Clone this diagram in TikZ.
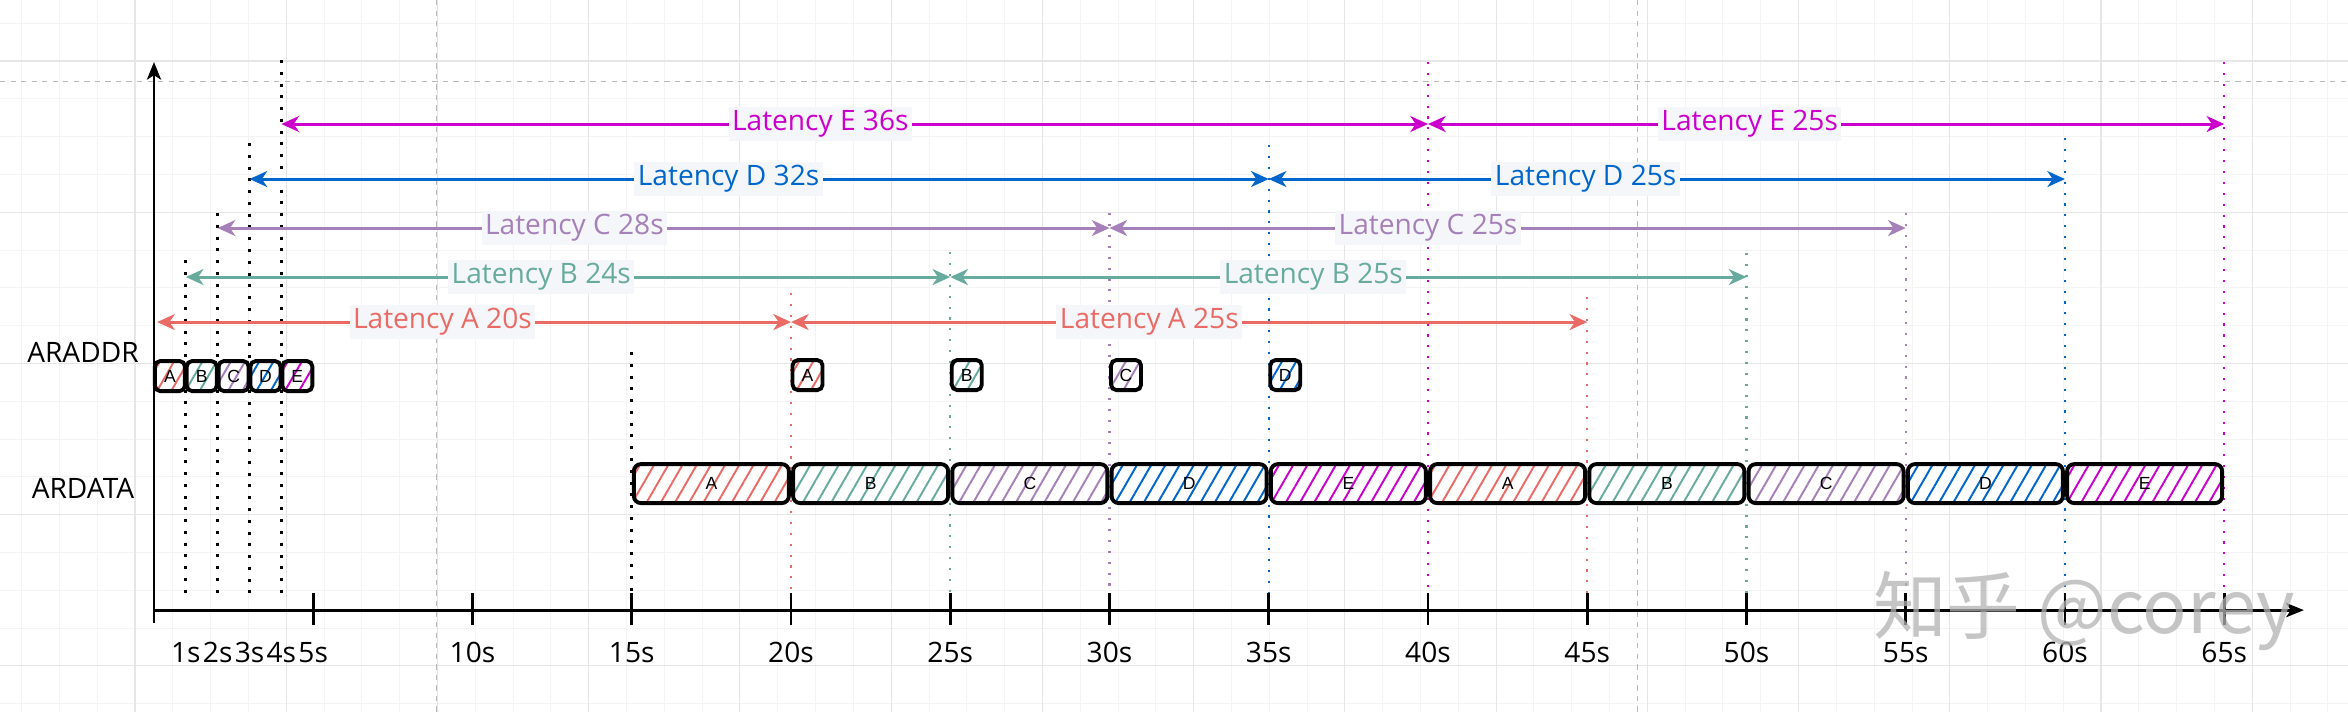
\documentclass[tikz,border=0pt]{standalone}
\usepackage{fontspec}
\setmainfont{Open Sans}
\newfontfamily\boxfont{Liberation Sans}
\newfontfamily\cjkfont{Noto Sans CJK SC}
\usetikzlibrary{arrows.meta,patterns.meta,calc}
\definecolor{ClrA}{HTML}{EA6B66}
\definecolor{ClrB}{HTML}{67AB9F}
\definecolor{ClrC}{HTML}{A680B8}
\definecolor{ClrD}{HTML}{0066CC}
\definecolor{ClrE}{HTML}{CC00CC}
\definecolor{GridClr}{HTML}{F4F4F4}
\definecolor{MajorClr}{HTML}{E6E6E6}
\definecolor{LabelBg}{HTML}{F4F6F9}

\begin{document}
\begin{tikzpicture}[x=0.637cm,y=-0.02cm,
  lat/.style={<->,line width=1.7pt,>={Stealth[length=10pt,width=9pt,inset=3pt]}},
  latlbl/.style={fill=LabelBg,inner sep=2pt,font=\fontsize{16}{19}\selectfont},
  axisline/.style={line width=1.7pt,-{Stealth[length=10pt,width=8pt,inset=2.5pt]}},
  blackdots/.style={black,line width=1.7pt,dash pattern=on 1.7pt off 5pt},
  clrdots/.style={line width=1.2pt,dash pattern=on 1.2pt off 5pt},
  hatch/.style={preaction={fill=white},pattern={Lines[angle=60,distance=7pt,line width=1.1pt]},pattern color=#1},
  slot/.style={draw=black,line width=2.2pt,rounded corners=3pt,minimum width=0.6cm,minimum height=0.6cm,inner sep=0pt,font=\boxfont\fontsize{10}{11}\selectfont},
  burst/.style={draw=black,line width=2.2pt,rounded corners=4pt,minimum width=3.1cm,minimum height=0.78cm,inner sep=0pt,font=\boxfont\fontsize{10}{11}\selectfont},
  ticklbl/.style={font=\fontsize{16}{19}\selectfont},
  siglbl/.style={font=\fontsize{16}{19}\selectfont}]

\useasboundingbox (-4.835,0) rectangle (68.886,712);
\fill[white] (-4.835,0) rectangle (68.886,712);

\begin{scope}[x=0.02cm,shift={(-154,0)}]
\foreach \k in {0,...,61} \draw[GridClr,line width=.5pt] ({21.6+37.8*\k},0) -- ({21.6+37.8*\k},712);
\foreach \k in {0,...,18} \draw[GridClr,line width=.5pt] (0,{23.2+37.8*\k}) -- (2348,{23.2+37.8*\k});
\foreach \k in {0,...,14} \draw[MajorClr,line width=.6pt] ({135+151.2*\k},0) -- ({135+151.2*\k},712);
\foreach \k in {0,...,4} \draw[MajorClr,line width=.6pt] (0,{61+151.2*\k}) -- (2348,{61+151.2*\k});
\draw[gray!55,dashed,line width=.4pt] (436,0) -- (436,712) (1637,0) -- (1637,712) (0,81) -- (2348,81);
\end{scope}

\foreach \tm/\ytop in {1/260,2/213,3/143,4/60,15/352}
  \draw[blackdots] (\tm,\ytop) -- (\tm,600);
\foreach \tm/\ytop/\c in {20/293/ClrA,25/252/ClrB,30/213/ClrC,35/145/ClrD,40/62/ClrE,45/297/ClrA,50/253/ClrB,55/213/ClrC,60/138/ClrD,65/62/ClrE}
  \draw[clrdots,\c] (\tm,\ytop) -- (\tm,606);

\coordinate (Ybot) at (0,623);
\coordinate (Ytop) at (0,62);
\coordinate (O) at (0,610);
\coordinate (Xend) at (67.5,610);
\draw[axisline] (Ybot) -- (Ytop);
\draw[axisline] (O) -- (Xend);
\foreach \tm in {5,10,...,65}
  \draw[line width=1.6pt] (\tm,593) -- (\tm,625);
\foreach \tm in {1,...,5}
  \node[ticklbl] (t\tm) at (\tm,652) {\tm s};
\foreach \tm in {10,15,...,65}
  \node[ticklbl] (t\tm) at (\tm,652) {\tm s};

\node[siglbl] (araddr) at (-2.23,352) {ARADDR};
\node[siglbl] (ardata) at (-2.23,488) {ARDATA};

\coordinate (a0) at (0.1,322); \coordinate (a1) at (20,322); \coordinate (a2) at (45,322);
\coordinate (b0) at (1,277);   \coordinate (b1) at (25,277); \coordinate (b2) at (50,277);
\coordinate (c0) at (2,228);   \coordinate (c1) at (30,228); \coordinate (c2) at (55,228);
\coordinate (d0) at (3,179);   \coordinate (d1) at (35,179); \coordinate (d2) at (60,179);
\coordinate (e0) at (4,124);   \coordinate (e1) at (40,124); \coordinate (e2) at (65,124);

\draw[lat,ClrA] (a0) -- node[latlbl,pos=.45] (la1) {Latency A 20s} (a1);
\draw[lat,ClrA] (a1) -- node[latlbl,pos=.45] (la2) {Latency A 25s} (a2);
\draw[lat,ClrB] (b0) -- node[latlbl,pos=.465] (lb1) {Latency B 24s} (b1);
\draw[lat,ClrB] (b1) -- node[latlbl,pos=.456] (lb2) {Latency B 25s} (b2);
\draw[lat,ClrC] (c0) -- node[latlbl,pos=.40] (lc1) {Latency C 28s} (c1);
\draw[lat,ClrC] (c1) -- node[latlbl,pos=.40] (lc2) {Latency C 25s} (c2);
\draw[lat,ClrD] (d0) -- node[latlbl,pos=.47] (ld1) {Latency D 32s} (d1);
\draw[lat,ClrD] (d1) -- node[latlbl,pos=.398] (ld2) {Latency D 25s} (d2);
\draw[lat,ClrE] (e0) -- node[latlbl,pos=.47] (le1) {Latency E 36s} (e1);
\draw[lat,ClrE] (e1) -- node[latlbl,pos=.404] (le2) {Latency E 25s} (e2);

\foreach \n/\c [count=\i from 0] in {A/ClrA,B/ClrB,C/ClrC,D/ClrD,E/ClrE}
  \node[slot,hatch=\c] (r\n) at (\i+0.5,376) {\n};
\foreach \n/\c/\tm in {A/ClrA/20,B/ClrB/25,C/ClrC/30,D/ClrD/35}
  \node[slot,hatch=\c] (rr\n) at (\tm+0.52,375) {\n};

\foreach \n/\c [count=\i from 0] in {A/ClrA,B/ClrB,C/ClrC,D/ClrD,E/ClrE,A/ClrA,B/ClrB,C/ClrC,D/ClrD,E/ClrE}
  \node[burst,hatch=\c] (d\i) at ({17.5+5*\i},483.5) {\n};

\node[font=\cjkfont\fontsize{42}{48}\selectfont,text=gray!60,opacity=.75] (wm) at (60.6,611) {知乎 @corey};

\end{tikzpicture}
\end{document}
